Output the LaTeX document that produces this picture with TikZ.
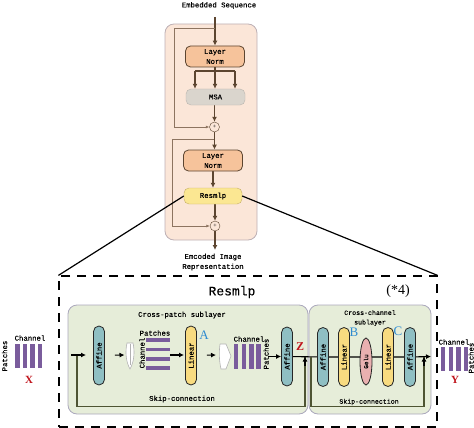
\documentclass[tikz,border=0pt]{standalone}
\usepackage{fontspec}
\setmainfont{Liberation Serif}
\setmonofont[FakeBold=0.3]{Liberation Mono}
\usetikzlibrary{shapes.misc,shapes.geometric,arrows.meta}
\definecolor{peach}{HTML}{FBE6D8}
\definecolor{peachline}{HTML}{BDB0B5}
\definecolor{normfill}{HTML}{F6C39B}
\definecolor{brownline}{HTML}{5C4530}
\definecolor{tanline}{HTML}{8D7460}
\definecolor{msafill}{HTML}{DAD5CD}
\definecolor{resfill}{HTML}{FBE792}
\definecolor{subfill}{HTML}{E6EDD9}
\definecolor{subline}{HTML}{ABA8BC}
\definecolor{affinefill}{HTML}{8FBFC3}
\definecolor{linearfill}{HTML}{F8DB80}
\definecolor{gelufill}{HTML}{E9B0B0}
\definecolor{barfill}{HTML}{7A5C9C}
\definecolor{skipline}{HTML}{4E5433}
\definecolor{lettered}{HTML}{C0141C}
\definecolor{letterblue}{HTML}{2E8BD0}
\pgfdeclarelayer{panels}
\pgfdeclarelayer{lines}
\pgfsetlayers{panels,lines,main}
\begin{document}
\begin{tikzpicture}[x=1pt,y=-1pt,
        label/.style={font=\ttfamily\fontsize{7.3}{9}\selectfont, inner sep=0pt, align=center},
        normbox/.style={rectangle, draw=brownline, fill=normfill, rounded corners=5pt, minimum width=59pt, minimum height=21pt, inner sep=0pt, align=center, thick, font=\ttfamily\fontsize{7.3}{10}\selectfont},
        msabox/.style={rectangle, draw=msafill!85!black, fill=msafill, rounded corners=5pt, minimum width=59pt, minimum height=16pt, inner sep=0pt, font=\ttfamily\fontsize{7.3}{9}\selectfont},
        resbox/.style={rectangle, draw=linearfill!80!black, fill=resfill, rounded corners=5pt, minimum width=58pt, minimum height=16pt, inner sep=0pt, font=\ttfamily\fontsize{7.3}{9}\selectfont},
        plus/.style={circle, draw=brownline, fill=peach, minimum size=10pt, inner sep=0pt, font=\fontsize{6}{6}\selectfont},
        pill/.style={rounded rectangle, draw=black!85, thick, rotate=90, minimum width=59pt, minimum height=11pt, inner sep=0pt, font=\ttfamily\fontsize{7.3}{9}\selectfont},
        affine/.style={pill, fill=affinefill},
        linear/.style={pill, fill=linearfill},
        gelubox/.style={ellipse, draw=black!85, thick, fill=gelufill, rotate=90, minimum width=47pt, minimum height=12pt, inner sep=0pt, font=\ttfamily\fontsize{6}{7}\selectfont},
        sublayer/.style={rectangle, draw=subline, fill=subfill, rounded corners=9pt, thick},
        vbar/.style={rectangle, fill=barfill, minimum width=4.2pt, minimum height=24.5pt, inner sep=0pt},
        hbar/.style={rectangle, fill=barfill, minimum width=24pt, minimum height=3.8pt, inner sep=0pt},
        letter/.style={font=\fontsize{11}{11}\selectfont\bfseries, inner sep=0pt},
        blueletter/.style={inner sep=0pt, text=letterblue, font=\fontsize{13}{13}\selectfont},
        toparrow/.style={-{Latex[length=5pt,width=5pt]}, line width=1.3pt, brownline},
        topskip/.style={-{Latex[length=3.5pt,width=3pt]}, line width=.8pt, tanline},
        arrow/.style={-{Latex[length=5pt,width=5pt]}, line width=1.1pt, black},
        skip/.style={line width=1.3pt, skipline},
        joinline/.style={line width=1.1pt},
        fold/.style={draw=black!30, fill=white, line width=.6pt}
    ]
        \useasboundingbox (0,0) rectangle (474,428);

        % encoder block
        \begin{pgfonlayer}{panels}
        \node[rectangle, draw=peachline, fill=peach, rounded corners=9pt, thick, minimum width=92pt, minimum height=216pt] (encoder) at (211,132) {};
        \end{pgfonlayer}
        \node[label] (embedded) at (219,5.5) {Embedded Sequence};
        \node[normbox] (norma) at (215,56.5) {Layer\\Norm};
        \node[msabox] (msa) at (215.5,97) {MSA};
        \node[plus] (plusa) at (214.5,127) {+};
        \node[normbox] (normb) at (213,160.5) {Layer\\Norm};
        \node[resbox] (resmlp) at (213,196) {Resmlp};
        \node[plus] (plusb) at (215,226) {+};
        \node[label, font=\ttfamily\fontsize{7.3}{10}\selectfont] (encoded) at (213,262) {Emcoded Image\\Representation};
        \coordinate (intop) at (215,17);
        \coordinate (outtip) at (215,250);
        \coordinate (tapa) at (215,28);
        \coordinate (tapb) at (214,139.5);
        \coordinate (tapc) at (215,71);
        \coordinate (tapl) at (195,71);
        \coordinate (tapr) at (235,71);

        \begin{pgfonlayer}{lines}
        \draw[toparrow] (intop) -- (norma.north -| intop);
        \draw[toparrow] (norma.south -| tapc) -- (msa.north -| tapc);
        \draw[line width=1.3pt, brownline] (tapl) -- (tapr);
        \draw[toparrow] (tapl) -- (msa.north -| tapl);
        \draw[toparrow] (tapr) -- (msa.north -| tapr);
        \draw[toparrow] (msa.south -| plusa) -- (plusa.north);
        \draw[toparrow] (plusa.south) -- (normb.north -| plusa);
        \draw[toparrow] (normb) -- (resmlp);
        \draw[toparrow] (resmlp.south -| plusb) -- (plusb.north);
        \draw[toparrow] (plusb) -- (outtip);
        \draw[topskip] (tapa) -| (174,127) -- (plusa.west);
        \draw[topskip] (tapb) -| (172,226) -- (plusb.west);
        \end{pgfonlayer}

        % zoomed region
        \node[rectangle, draw=black, line width=1.2pt, dash pattern=on 9pt off 7pt, minimum width=378pt, minimum height=151pt] (zoombox) at (248,351.5) {};
        \draw[line width=1.2pt] (resmlp.west) -- (zoombox.north west);
        \draw[line width=1.2pt] (resmlp.east) -- (zoombox.north east);
        \node[font=\ttfamily\fontsize{13}{13}\selectfont, inner sep=0pt] (title) at (232,292) {Resmlp};
        \node[font=\fontsize{14}{14}\selectfont, inner sep=0pt] (times) at (398,291) {(*4)};

        \begin{pgfonlayer}{panels}
        \node[sublayer, minimum width=240pt, minimum height=109pt] (patchsub) at (188,359.5) {};
        \node[sublayer, minimum width=122pt, minimum height=109pt] (chansub) at (370,359.5) {};
        \end{pgfonlayer}
        \node[label] (patchtitle) at (182,315) {Cross-patch sublayer};
        \node[label, font=\ttfamily\fontsize{6.6}{9.5}\selectfont] (chantitle) at (370,318) {Cross-channel\\sublayer};
        \node[label] (skiptexta) at (182,399) {Skip-connection};
        \node[label, font=\ttfamily\fontsize{6.6}{9}\selectfont] (skiptextb) at (369,402) {Skip-connection};

        % input bars
        \foreach \n/\x in {a/17.5,b/25,c/32.5,d/40} \node[vbar] (inbar\n) at (\x,356) {};
        \node[label] (inchannel) at (30,338) {Channel};
        \node[label, rotate=90] (inpatches) at (4.5,356) {Patches};
        \node[letter, text=lettered] (xname) at (29,380) {X};

        % output bars
        \foreach \n/\x in {a/443,b/451,c/458.5,d/466} \node[vbar] (outbar\n) at (\x,359) {};
        \node[label] (outchannel) at (454,342) {Channel};
        \node[label, rotate=90] (outpatches) at (471,358) {Patches};
        \node[letter, text=lettered] (yname) at (455,380) {Y};

        % cross-patch sublayer
        \node[affine] (affa) at (99,355.5) {Affine};
        \node[linear] (lina) at (191,355.5) {Linear};
        \node[affine] (affb) at (287,356.5) {Affine};
        \foreach \n/\y in {a/340,b/349.5,c/359,d/368} \node[hbar] (hbar\n) at (158,\y) {};
        \node[label] (hpatches) at (155,333) {Patches};
        \node[label, rotate=90] (hchannel) at (142,353) {Channel};
        \foreach \n/\x in {a/236,b/244,c/251.5,d/258.5} \node[vbar] (midbar\n) at (\x,356.5) {};
        \node[label] (midchannel) at (249,339) {Channel};
        \node[label, rotate=90] (midpatches) at (266,354) {Patches};
        \node[blueletter] (aname) at (204,335) {A};
        \node[letter, text=lettered, font=\fontsize{12}{12}\selectfont\bfseries] (zname) at (300,347) {Z};

        \path[fold] (127,343) .. controls (125,352) and (126,362) .. (130,369) .. controls (134,362) and (135,352) .. (133,343) -- cycle;
        \draw[fold] (130,344) -- (130,365);
        \path[fold] (220,344) -- (226,344) -- (231,356) -- (226,369) -- (221,369) .. controls (219,360) and (219,352) .. (220,344);

        \coordinate (inlet) at (71,355);
        \coordinate (fork) at (77,355);
        \coordinate (folda) at (124.5,355);
        \coordinate (barsright) at (170,355);
        \coordinate (foldb) at (216,355);
        \coordinate (barsend) at (268,356.5);
        \coordinate (joina) at (305,356.5);
        \coordinate (joinb) at (311,356.5);
        \coordinate (outlet) at (431,356.5);
        \coordinate (joinc) at (424,356.5);

        % cross-channel sublayer
        \node[affine] (affc) at (323,357) {Affine};
        \node[linear] (linb) at (344,357) {Linear};
        \node[gelubox] (gelu) at (366,361.5) {Gelu};
        \node[linear] (linc) at (388,357) {Linear};
        \node[affine] (affd) at (410,357) {Affine};
        \node[blueletter] (bname) at (354,332) {B};
        \node[blueletter] (cname) at (398,331) {C};

        \begin{pgfonlayer}{lines}
        \draw[skip] (fork) -- (77,406.5) -- (305,406.5) -- (joina);
        \draw[arrow] (305,366) -- (joina);
        \draw[arrow] (inlet) -- (86,355);
        \draw[arrow, shorten <=10pt] (affa) -- (folda);
        \draw[arrow] (barsright) -- (184,355);
        \draw[arrow, shorten <=10pt] (lina) -- (foldb);
        \draw[arrow] (barsend) -- (affb.north |- barsend);
        \draw[joinline] (affb) -- (affc);
        \draw[joinline] (affc) -- (linb);
        \draw[joinline] (linb) -- (linc);
        \draw[joinline] (linc) -- (affd);
        \draw[arrow] (affd) -- (outlet);
        \draw[skip] (joinb) -- (311,406.5) -- (424,406.5) -- (joinc);
        \draw[arrow] (424,366) -- (joinc);
        \end{pgfonlayer}
    \end{tikzpicture}
\end{document}
